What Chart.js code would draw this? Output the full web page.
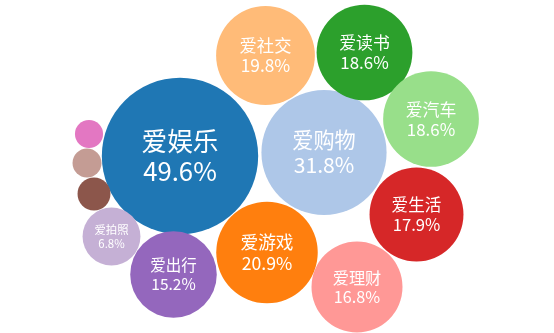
<!DOCTYPE html>
<html>
<head>
<meta charset="utf-8">
<script src="https://cdn.jsdelivr.net/npm/chart.js@4.4.0/dist/chart.umd.min.js"></script>
<style>
  html, body { margin: 0; padding: 0; background: #fff; }
  #wrap { width: 554px; height: 333px; }
</style>
</head>
<body>
<div id="wrap"><canvas id="bubbles" width="554" height="333"></canvas></div>
<script>
// ---- data ----
const names  = ['爱娱乐', '爱购物', '爱游戏', '爱社交', '爱读书', '爱汽车', '爱生活', '爱理财', '爱出行', '爱拍照', '', '', ''];
const shares = [49.6, 31.8, 20.9, 19.8, 18.6, 18.6, 17.9, 16.8, 15.2, 6.8, 2.2, 1.7, 1.6];
// packed layout centres (layout units = scale units)
const posX   = [180, 324, 267, 265.5, 364.5, 431, 416.5, 357, 173.5, 111.5, 94, 87, 89];
const posY   = [156, 152.5, 252.5, 55.5, 52.5, 119, 214.5, 287, 274.5, 236.5, 194, 163, 134];
const colors = ['#1f77b4', '#aec7e8', '#ff7f0e', '#ffbb78', '#2ca02c', '#98df8a', '#d62728',
                '#ff9896', '#9467bd', '#c5b0d5', '#8c564b', '#c49c94', '#e377c2'];

const SIZE_K = 11.1; // radius = k * sqrt(share)
const FONT = "'Noto Sans CJK SC', 'Noto Sans', sans-serif";

const labelPlugin = {
  id: 'bubble-labels',
  afterDatasetsDraw(chart) {
    const { ctx } = chart;
    const meta = chart.getDatasetMeta(0);
    ctx.save();
    ctx.fillStyle = '#ffffff';
    ctx.textAlign = 'center';
    ctx.textBaseline = 'middle';
    meta.data.forEach((el, i) => {
      if (!names[i]) return;
      const r = el.options.radius;
      const fs = 3 + 0.29 * r;
      ctx.font = fs.toFixed(1) + 'px ' + FONT;
      ctx.fillText(names[i], el.x, el.y - 0.58 * fs);
      ctx.fillText(shares[i].toFixed(1) + '%', el.x, el.y + 0.6 * fs);
    });
    ctx.restore();
  }
};

new Chart(document.getElementById('bubbles'), {
  type: 'bubble',
  data: {
    datasets: [{
      data: shares.map((v, i) => ({ x: posX[i], y: posY[i], r: SIZE_K * Math.sqrt(v) })),
      backgroundColor: colors,
      borderWidth: 0,
      hoverBorderWidth: 0
    }]
  },
  options: {
    responsive: false,
    animation: false,
    devicePixelRatio: 1,
    layout: { autoPadding: false, padding: 0 },
    scales: {
      x: { type: 'linear', min: 0, max: 554, display: false },
      y: { type: 'linear', min: 0, max: 333, reverse: true, display: false }
    },
    plugins: {
      legend: { display: false },
      tooltip: { enabled: false }
    }
  },
  plugins: [labelPlugin]
});
</script>
</body>
</html>
